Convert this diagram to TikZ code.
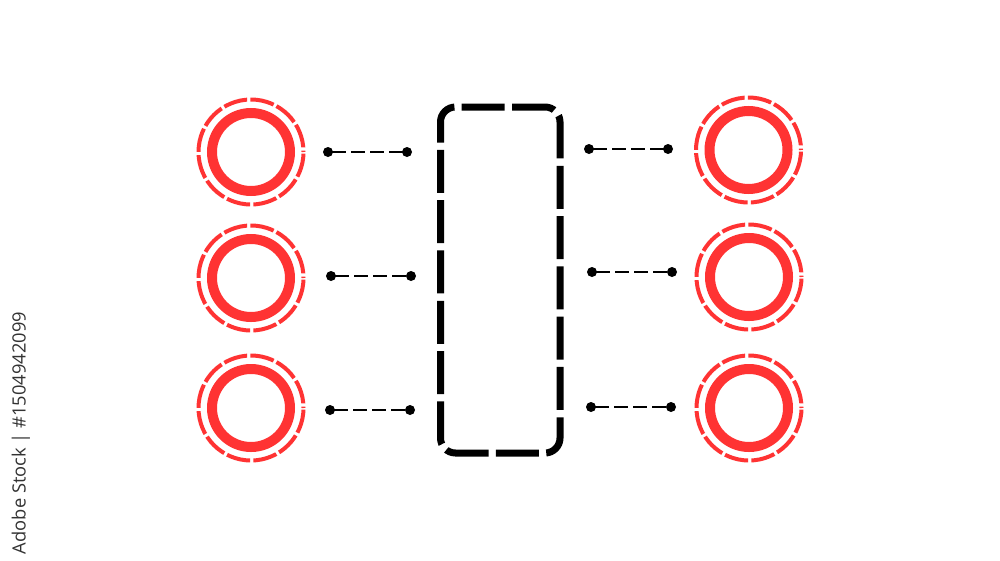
\documentclass[tikz,border=0pt]{standalone}
\usepackage{fontspec}
\setmainfont{Open Sans}
\begin{document}
\begin{tikzpicture}[x=1pt,y=-1pt,
  ringred/.style={circle,draw=ringc,line width=10pt,inner sep=0pt,minimum size=78pt},
  outerring/.style={draw=ringc,line width=4pt,dash pattern=on 24pt off 3.23pt,dash phase=25.6pt},
  dot/.style={circle,fill=black,inner sep=0pt,minimum size=10pt},
  conn/.style={draw=black,line width=2.5pt,dash pattern=on 14pt off 5pt,dash phase=15pt},
  bigbox/.style={rectangle,draw=black,line width=7pt,rounded corners=15pt,minimum width=119.5pt,minimum height=346pt,inner sep=0pt,dash pattern=on 43pt off 7.3pt,dash phase=10pt},
  stamp/.style={rotate=90,font=\fontsize{18.3}{20}\selectfont,text=black!80}]
\useasboundingbox (0,0) rectangle (1000,560);
\definecolor{ringc}{RGB}{255,51,51}
% big box
\node[bigbox] (box) at (500.25,280) {};
% left circles
\node[ringred] (L1) at (251,152) {};
\node[ringred] (L2) at (251,278) {};
\node[ringred] (L3) at (251,408) {};
% right circles
\node[ringred] (R1) at (748.5,150) {};
\node[ringred] (R2) at (749,277) {};
\node[ringred] (R3) at (749,408) {};
\foreach \n in {L1,L2,L3,R1,R2,R3}{\draw[outerring] (\n.center) circle[radius=52.5];}
% left connectors
\node[dot] (la1) at (328,152) {};
\node[dot] (lb1) at (407,152) {};
\node[dot] (la2) at (331,276) {};
\node[dot] (lb2) at (411,276) {};
\node[dot] (la3) at (330,410) {};
\node[dot] (lb3) at (410,410) {};
% right connectors
\node[dot] (ra1) at (589,149) {};
\node[dot] (rb1) at (668,149) {};
\node[dot] (ra2) at (592,272) {};
\node[dot] (rb2) at (672,272) {};
\node[dot] (ra3) at (591,407) {};
\node[dot] (rb3) at (671,407) {};
\foreach \a/\b in {la1/lb1,la2/lb2,la3/lb3,ra1/rb1,ra2/rb2,ra3/rb3}{\draw[conn] (\a.center) -- (\b.center);}
% stock id
\node[stamp] (id) at (21,433) {Adobe Stock | \#1504942099};
\end{tikzpicture}
\end{document}
